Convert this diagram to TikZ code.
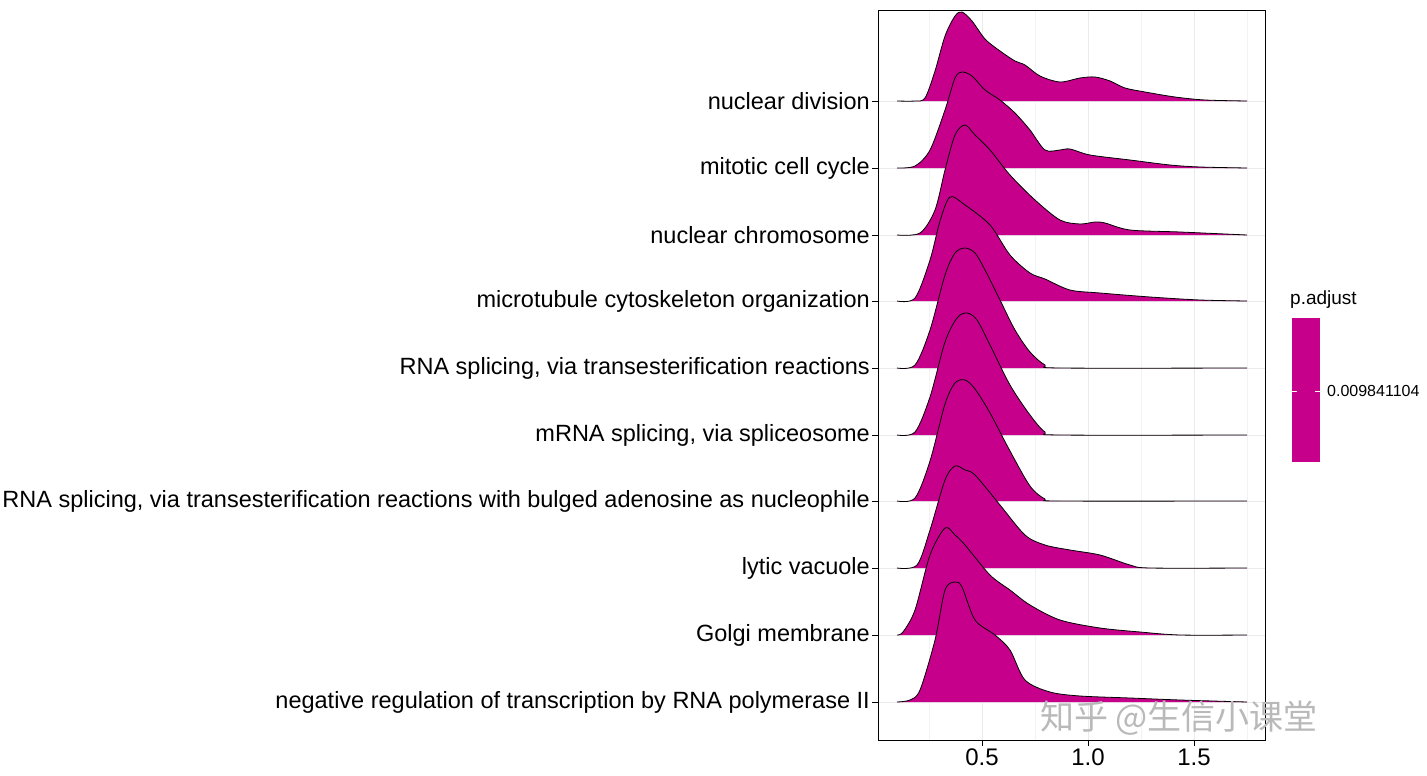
\documentclass[tikz,border=0pt]{standalone}
\usepackage{fontspec}
\setmainfont{Liberation Sans}
\newfontfamily\cjk{Noto Sans CJK SC}
\definecolor{rfill}{HTML}{C7008C}
\definecolor{gmaj}{HTML}{EBEBEB}
\definecolor{gmin}{HTML}{F3F3F3}
\begin{document}
\begin{tikzpicture}[x=1pt,y=-1pt,
  lab/.style={anchor=east,font=\fontsize{23.5}{28}\selectfont,inner sep=0pt},
  tick/.style={anchor=north,font=\fontsize{24}{28}\selectfont,inner sep=0pt},
  ridge/.style={fill=rfill,draw=black,line width=0.8pt,line join=round}]
\useasboundingbox (0,0) rectangle (1427,776);
\fill[white] (0,0) rectangle (1427,776);
% grid
\foreach \x in {929,1035,1141,1247} \draw[gmin,line width=0.6pt] (\x,10) -- (\x,740);
\foreach \x in {982,1088,1194} \draw[gmaj,line width=1pt] (\x,10) -- (\x,740);
\foreach \y in {101,168,235,301,368,435,501,568,635,702} \draw[gmaj,line width=1pt] (878,\y) -- (1265,\y);
% ridges (top to bottom)
\newcommand{\ridge}[2]{\begin{scope}[yshift=-#1]\draw[ridge] plot[smooth,tension=0.5] coordinates {#2};\end{scope}}
\ridge{101}{(897,0)(915,0)(925,-3)(935,-30)(945,-65)(955,-85)(962,-89)(972,-80)(985,-62)(1000,-50)(1015,-40)(1025,-36)(1040,-25)(1060,-19)(1080,-23)(1095,-24)(1110,-20)(1125,-13)(1145,-9)(1175,-4)(1205,-1)(1247,0)}
\ridge{168}{(897,0)(915,-2)(930,-18)(945,-58)(955,-90)(962,-96)(972,-92)(985,-78)(1000,-68)(1015,-55)(1030,-38)(1045,-18)(1060,-18)(1070,-19)(1090,-13)(1130,-8)(1170,-3)(1200,-1)(1247,0)}
\ridge{235}{(897,0)(920,-2)(935,-25)(945,-65)(955,-100)(965,-110)(975,-100)(990,-85)(1010,-60)(1035,-35)(1060,-15)(1080,-11)(1095,-13)(1105,-12)(1130,-5)(1180,-3)(1247,0)}
\ridge{301}{(897,0)(915,-3)(930,-41)(940,-80)(950,-104)(965,-96)(990,-76)(1010,-46)(1030,-28)(1045,-22)(1070,-11)(1100,-8)(1150,-4)(1200,-1)(1247,0)}
\ridge{368}{(897,0)(915,-3)(930,-38)(945,-93)(955,-115)(965,-120)(975,-115)(985,-98)(1000,-68)(1015,-38)(1030,-16)(1045,-3)(1060,0)(1247,0)}
\ridge{435}{(897,0)(915,-3)(930,-38)(945,-93)(957,-117)(967,-122)(977,-115)(990,-90)(1010,-50)(1030,-20)(1045,-3)(1060,0)(1247,0)}
\ridge{501}{(897,0)(915,-3)(930,-40)(945,-97)(955,-118)(965,-121)(975,-112)(990,-88)(1010,-50)(1030,-15)(1045,-2)(1060,0)(1247,0)}
\ridge{568}{(897,0)(917,-3)(930,-38)(945,-88)(955,-102)(965,-98)(975,-93)(1000,-63)(1025,-33)(1045,-23)(1070,-18)(1100,-13)(1130,-3)(1150,0)(1247,0)}
\ridge{635}{(897,0)(903,-3)(915,-25)(930,-80)(945,-107)(955,-100)(965,-90)(990,-60)(1010,-45)(1030,-30)(1060,-15)(1100,-7)(1140,-3)(1180,0)(1247,0)}
\ridge{702}{(897,0)(910,-2)(920,-12)(935,-62)(945,-112)(955,-120)(962,-115)(975,-82)(995,-67)(1010,-52)(1025,-22)(1050,-10)(1080,-6)(1130,-4)(1180,-2)(1247,0)}
% panel border
\draw[black,line width=0.8pt] (878,10) rectangle (1265,740);
% axis ticks
\foreach \x/\l in {982/0.5,1088/1.0,1194/1.5} {\draw[line width=0.8pt] (\x,740) -- (\x,746); \node[tick] at (\x,749) {\l};}
% y labels
\foreach \y/\t in {101/nuclear division,168/mitotic cell cycle,235/nuclear chromosome,301/microtubule cytoskeleton organization,368/{RNA splicing, via transesterification reactions},435/{mRNA splicing, via spliceosome},501/{RNA splicing, via transesterification reactions with bulged adenosine as nucleophile},568/lytic vacuole,635/Golgi membrane,702/negative regulation of transcription by RNA polymerase II}
  {\draw[line width=0.8pt] (872,\y) -- (878,\y); \node[lab] at (870,\y) {\t};}
% legend
\node[anchor=west,inner sep=0pt,font=\fontsize{19}{22}\selectfont] at (1290,300) {p.adjust};
\fill[rfill] (1292,318) rectangle (1320,462);
\draw[white,line width=0.8pt] (1292,391) -- (1297,391) (1315,391) -- (1320,391);
\node[anchor=west,inner sep=0pt,font=\fontsize{16}{19}\selectfont] at (1327,391) {0.009841104};
% watermark
\node[anchor=west,inner sep=0pt,text=gray!55,font=\cjk\fontsize{34}{40}\selectfont] at (1040,718) {知乎 @生信小课堂};
\end{tikzpicture}
\end{document}
